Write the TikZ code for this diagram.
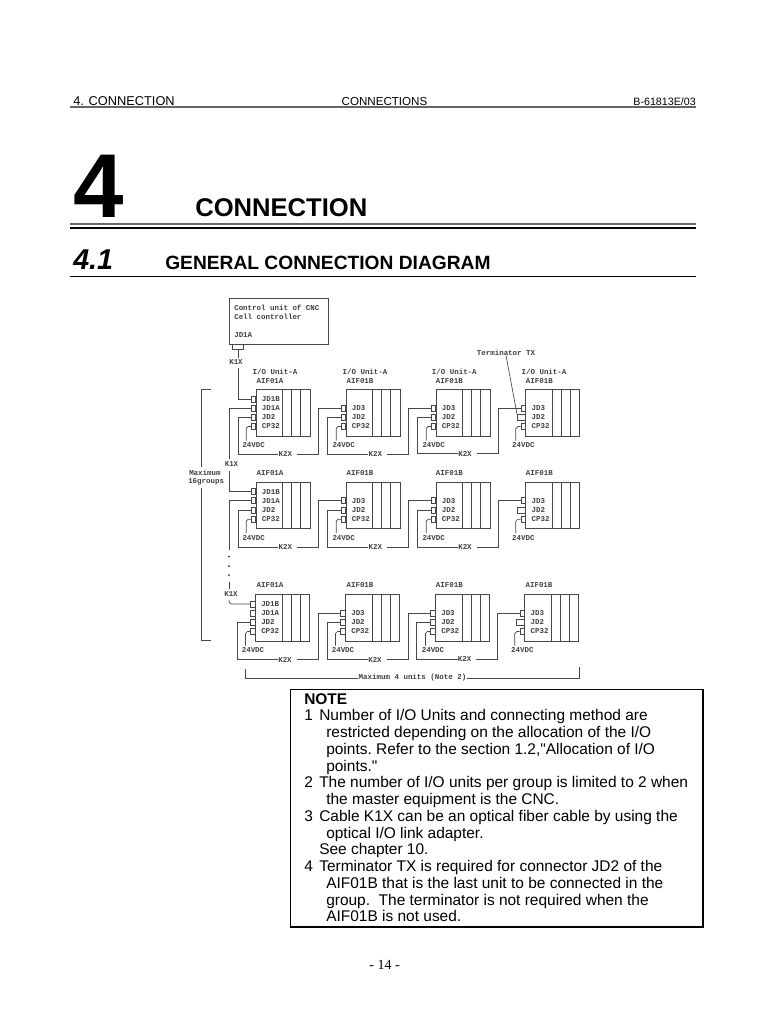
\documentclass[tikz,border=0pt]{standalone}
\usepackage{fontspec}
\setmainfont{Liberation Sans}
\newfontfamily\diagfont{Liberation Mono}
\newfontfamily\pagefoot{Liberation Serif}
\newfontfamily\notefont{Liberation Sans}
\definecolor{wirecol}{gray}{0.28}
\definecolor{ruleg}{gray}{0.4}
\tikzset{
  px/.style={x=0.75pt,y=-0.75pt},
  wire/.style={draw=wirecol,line width=0.5pt},
  framebox/.style={draw=wirecol,line width=0.6pt,fill=white},
  dlabel/.style={inner sep=0pt,font=\diagfont\bfseries\fontsize{5.6pt}{6pt}\selectfont,text=black!75},
  jack/.style={draw=wirecol,line width=0.5pt,fill=white,minimum width=3.2pt,minimum height=4.4pt,inner sep=0pt},
  termjack/.style={jack,minimum width=5.8pt},
  notetext/.style={inner sep=0pt,anchor=base west,font=\notefont\frenchspacing\fontsize{11.6pt}{12pt}\selectfont},
  rulek/.style={line width=0.9pt,black},
  dotmark/.style={circle,fill=black!80,inner sep=0pt,minimum size=1.5pt}
}
% #1 id, #2 left, #3 top, #4 kind of unit (A or B)
\newcommand{\ioUnit}[4]{%
  \node[framebox,anchor=north west,minimum width=40.5pt,minimum height=35pt,inner sep=0pt] (#1) at (#2,#3) {};
  \draw[wire] (#2+27,#3) -- (#2+27,#3+46.7) (#2+36,#3) -- (#2+36,#3+46.7) (#2+45,#3) -- (#2+45,#3+46.7);
  \if#4A
    \node[jack] (#1a) at (#2-2.2,#3+10) {};
    \node[jack] (#1b) at (#2-2.2,#3+19) {};
    \node[dlabel,anchor=west] (#1ta) at (#2+6,#3+10) {JD1B};
    \node[dlabel,anchor=west] (#1tb) at (#2+6,#3+19) {JD1A};
  \else
    \node[jack] (#1b) at (#2-2.2,#3+19) {};
    \node[dlabel,anchor=west] (#1tb) at (#2+6,#3+19) {JD3};
  \fi
  \node[jack] (#1c) at (#2-2.2,#3+28.3) {};
  \node[jack] (#1d) at (#2-2.2,#3+37.5) {};
  \node[dlabel,anchor=west] (#1tc) at (#2+6,#3+28.3) {JD2};
  \node[dlabel,anchor=west] (#1td) at (#2+6,#3+37.5) {CP32};
  \node[dlabel] (#1v) at (#2-2,#3+56.5) {24VDC};
  \coordinate (#1p) at (#2-9.5,#3+51.5);
  \draw[wire] (#1d.west) -- (#2-7.5,#3+37.5) -- (#2-9.5,#3+39.5) -- (#1p);
}
% #1 from unit, #2 to unit, #3 K2X x, #4 y, #5 left x, #6 right x
\newcommand{\kLink}[6]{%
  \node[dlabel] (#1k) at (#3,#4) {K2X};
  \draw[wire] (#1c.west) -| (#5,#4) -- (#1k.west);
  \draw[wire] ([xshift=3.5pt]#1k.east) -- (#6,#4) |- (#2b.west);
}
\begin{document}
\begin{tikzpicture}[px]
\useasboundingbox (0,0) rectangle (768,1024);
% page header
\node[inner sep=0pt,anchor=base west,font=\fontsize{9.6pt}{10pt}\selectfont] (hl) at (73,105) {4. CONNECTION};
\node[inner sep=0pt,anchor=base,font=\fontsize{8.7pt}{10pt}\selectfont] (hc) at (384.5,105) {CONNECTIONS};
\node[inner sep=0pt,anchor=base east,font=\fontsize{8pt}{10pt}\selectfont] (hr) at (696,105) {B-61813E/03};
\draw[line width=0.9pt,ruleg] (70,107) -- (696,107);
\node[inner sep=0pt,anchor=base west,font=\bfseries\fontsize{68pt}{70pt}\selectfont] (bign) at (73,217) {4};
\node[inner sep=0pt,anchor=base west,font=\bfseries\fontsize{19.2pt}{20pt}\selectfont] (cht) at (195,216.5) {CONNECTION};
\draw[line width=1pt,ruleg] (70,224) -- (696,224);
\draw[line width=2pt,black] (70,228) -- (696,228);
\node[inner sep=0pt,anchor=base west,font=\bfseries\itshape\fontsize{21.5pt}{22pt}\selectfont] (secn) at (73,269.5) {4.1};
\node[inner sep=0pt,anchor=base west,font=\bfseries\fontsize{14.4pt}{16pt}\selectfont] (sect) at (165,269) {GENERAL CONNECTION DIAGRAM};
\draw[rulek] (70,276.7) -- (696,276.7);

% control unit
\node[framebox,anchor=north west,minimum width=74.2pt,minimum height=34.5pt,inner sep=0pt] (cu) at (229.3,298.3) {};
\node[dlabel,anchor=west] (cu1) at (234,307.5) {Control unit of CNC};
\node[dlabel,anchor=west] (cu2) at (234,317) {Cell controller};
\node[dlabel,anchor=west] (cu3) at (234,335) {JD1A};
\node[framebox,anchor=north,minimum width=8pt,minimum height=3.6pt,inner sep=0pt] (cuj) at (238,344.3) {};

% units
\ioUnit{ua}{255.7}{389}{A}
\ioUnit{ub}{345.7}{389}{B}
\ioUnit{uc}{435.7}{389}{B}
\ioUnit{ud}{525.3}{389}{B}
\ioUnit{va}{255.7}{481.7}{A}
\ioUnit{vb}{345.7}{481.7}{B}
\ioUnit{vc}{435.7}{481.7}{B}
\ioUnit{vd}{525.3}{481.7}{B}
\ioUnit{wa}{255}{594}{A}
\ioUnit{wb}{345}{594}{B}
\ioUnit{wc}{435}{594}{B}
\ioUnit{wd}{524.3}{594}{B}
\node[termjack] (udt) at (521.2,417.3) {};
\node[termjack] (vdt) at (521.2,510) {};
\node[termjack] (wdt) at (520.4,622.3) {};

% unit titles
\node[dlabel] (titlea) at (275,371.5) {I/O Unit-A};
\node[dlabel] (titleb) at (365,371.5) {I/O Unit-A};
\node[dlabel] (titlec) at (454.3,371.5) {I/O Unit-A};
\node[dlabel] (titled) at (544,371.5) {I/O Unit-A};
\node[dlabel] (tua) at (270,380.7) {AIF01A};
\node[dlabel] (tub) at (360,380.7) {AIF01B};
\node[dlabel] (tuc) at (449.3,380.7) {AIF01B};
\node[dlabel] (tud) at (539.3,380.7) {AIF01B};
\node[dlabel] (tva) at (270,472.7) {AIF01A};
\node[dlabel] (tvb) at (360,472.7) {AIF01B};
\node[dlabel] (tvc) at (449.3,472.7) {AIF01B};
\node[dlabel] (tvd) at (539.3,472.7) {AIF01B};
\node[dlabel] (twa) at (270,585) {AIF01A};
\node[dlabel] (twb) at (360,585) {AIF01B};
\node[dlabel] (twc) at (449.3,585) {AIF01B};
\node[dlabel] (twd) at (539,585) {AIF01B};

% K1X chain
\node[dlabel] (k1) at (236,362.5) {K1X};
\node[dlabel] (k2) at (231.5,464) {K1X};
\node[dlabel] (k3) at (231,594) {K1X};
\coordinate (chainA) at (229,459);
\coordinate (chainB) at (229,471);
\coordinate (chainC) at (229,550);
\coordinate (chainD) at (229,581.7);
\coordinate (chainE) at (229,589);
\coordinate (chainF) at (229,600);
\draw[wire] (cuj.south) -- (238,357.5);
\draw[wire] (238,368) |- (uaa.west);
\draw[wire] (uab.west) -| (chainA);
\draw[wire] (chainB) |- (vaa.west);
\draw[wire] (vab.west) -| (chainC);
\node[dotmark] (d1) at (229,556.7) {};
\node[dotmark] (d2) at (229,566) {};
\node[dotmark] (d3) at (229,575) {};
\draw[wire] (chainD) -- (chainE);
\draw[wire,rounded corners=2pt] (chainF) |- (waa.west);

% K2X links
\kLink{ua}{ub}{285.3}{454}{238.3}{318.7}
\kLink{ub}{uc}{375.3}{454}{327.3}{408.7}
\kLink{uc}{ud}{465}{453.5}{417.3}{498.7}
\kLink{va}{vb}{285.3}{547.3}{238.3}{318.7}
\kLink{vb}{vc}{375.3}{547.3}{327.3}{408.7}
\kLink{vc}{vd}{465}{547}{417.3}{498.7}
\kLink{wa}{wb}{285}{659.5}{237.3}{318.3}
\kLink{wb}{wc}{375}{659.5}{327}{408.3}
\kLink{wc}{wd}{464.7}{659}{416.7}{497.7}

% terminator
\node[dlabel] (termtx) at (506,352.5) {Terminator TX};
\draw[wire] (termtx.south) -- (udt.north west);

% left bracket
\node[dlabel,anchor=west] (max1) at (189,472.7) {Maximum};
\node[dlabel,anchor=west] (max2) at (188,481.7) {16groups};
\draw[wire] (210.7,389.3) -- (201.7,389.3) -- (201.7,467);
\draw[wire] (201.7,488) -- (201.7,640.7) -- (210.7,640.7);

% bottom bracket
\node[dlabel] (max3) at (412.5,678) {Maximum 4 units (Note 2)};
\draw[wire] (245.7,669) |- (max3.west);
\draw[wire] (max3.east) -| (579.3,667.3);

% note
\node[draw=black,line width=1.2pt,anchor=north west,minimum width=309.4pt,minimum height=178pt,inner sep=0pt] (notebox) at (289.7,688.8) {};
\node[notetext,font=\notefont\bfseries\fontsize{11.6pt}{12pt}\selectfont] (n0) at (304,704) {NOTE};
\node[notetext] (n1a) at (304,720.8) {1};
\node[notetext] (n1) at (319,720.8) {Number of I/O Units and connecting method are};
\node[notetext] (n2) at (326,737.5) {restricted depending on the allocation of the I/O};
\node[notetext] (n3) at (326,754.3) {points. Refer to the section 1.2,"Allocation of I/O};
\node[notetext] (n4) at (326,771) {points."};
\node[notetext] (n5a) at (304,787.8) {2};
\node[notetext] (n5) at (319,787.8) {The number of I/O units per group is limited to 2 when};
\node[notetext] (n6) at (326,804.5) {the master equipment is the CNC.};
\node[notetext] (n7a) at (304,821.3) {3};
\node[notetext] (n7) at (319,821.3) {Cable K1X can be an optical fiber cable by using the};
\node[notetext] (n8) at (326,838) {optical I/O link adapter.};
\node[notetext] (n9) at (319,854.8) {See chapter 10.};
\node[notetext] (n10a) at (304,871.5) {4};
\node[notetext] (n10) at (319,871.5) {Terminator TX is required for connector JD2 of the};
\node[notetext] (n11) at (326,888.2) {AIF01B that is the last unit to be connected in the};
\node[notetext] (n12) at (326,905) {group.\ \ The terminator is not required when the};
\node[notetext] (n13) at (326,921.7) {AIF01B is not used.};

% folio
\node[inner sep=0pt,anchor=base,font=\pagefoot\fontsize{10.5pt}{12pt}\selectfont] (folio) at (384.5,969) {- 14 -};
\end{tikzpicture}
\end{document}
